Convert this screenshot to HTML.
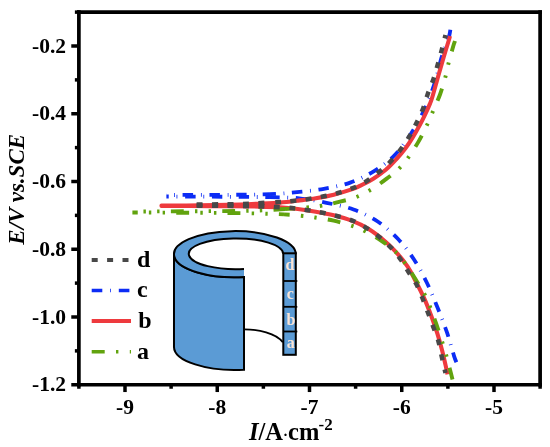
<!DOCTYPE html>
<html><head><meta charset="utf-8"><style>
html,body{margin:0;padding:0;background:#fff;}
body{width:550px;height:447px;overflow:hidden;}
svg{display:block;}
</style></head><body>
<svg width="550" height="447" viewBox="0 0 550 447">
<g fill="none" stroke-linejoin="round">
<path d="M270.00,197.20 C258.47,196.95 247.27,196.92 230.00,196.80 C212.73,196.68 177.00,196.55 166.40,196.50" stroke="#0c2cf5" stroke-width="3.8" stroke-dasharray="10.42 7.76 0.8 7.67" stroke-dashoffset="5.58"/>
<path d="M456.50,362.50 C456.08,361.38 455.62,360.90 454.00,355.80 C452.38,350.70 449.57,339.98 446.80,331.90 C444.03,323.82 440.70,315.45 437.40,307.30 C434.10,299.15 430.90,290.97 427.00,283.00 C423.10,275.03 418.78,266.78 414.00,259.50 C409.22,252.22 404.35,245.63 398.30,239.30 C392.25,232.97 385.17,226.47 377.70,221.50 C370.23,216.53 362.03,212.62 353.50,209.50 C344.97,206.38 335.55,204.67 326.50,202.80 C317.45,200.93 308.62,199.23 299.20,198.30 C289.78,197.37 281.53,197.45 270.00,197.20" stroke="#0c2cf5" stroke-width="3.8" stroke-dasharray="10.42 7.76 0.8 7.67" stroke-dashoffset="26.34"/>
<path d="M166.40,195.00 C177.00,194.97 212.73,194.93 230.00,194.80 C247.27,194.67 258.83,194.63 270.00,194.20" stroke="#0c2cf5" stroke-width="3.8" stroke-dasharray="10.42 7.76 0.8 7.67" stroke-dashoffset="10.33"/>
<path d="M270.00,194.20 C281.17,193.77 288.03,193.10 297.00,192.20 C305.97,191.30 314.93,190.40 323.80,188.80 C332.67,187.20 341.82,185.55 350.20,182.60 C358.58,179.65 366.75,175.62 374.10,171.10 C381.45,166.58 388.18,161.68 394.30,155.50 C400.42,149.32 405.95,141.30 410.80,134.00 C415.65,126.70 419.87,118.87 423.40,111.70 C426.93,104.53 429.73,97.12 432.00,91.00 C434.27,84.88 435.42,80.58 437.00,75.00 C438.58,69.42 439.90,62.75 441.50,57.50 C443.10,52.25 445.30,47.17 446.60,43.50 C447.90,39.83 448.63,38.05 449.30,35.50 C449.97,32.95 450.38,29.42 450.60,28.20" stroke="#0c2cf5" stroke-width="3.8" stroke-dasharray="10.42 7.76 0.8 7.67" stroke-dashoffset="4.61"/>
<path d="M447.50,374.30 C447.17,372.73 446.42,368.95 445.50,364.90 C444.58,360.85 443.35,355.20 442.00,350.00 C440.65,344.80 439.20,339.40 437.40,333.70 C435.60,328.00 433.43,321.77 431.20,315.80 C428.97,309.83 426.80,304.08 424.00,297.90 C421.20,291.72 417.18,283.98 414.40,278.70 C411.62,273.42 409.98,270.22 407.30,266.20 C404.62,262.18 401.88,258.63 398.30,254.60 C394.72,250.57 390.87,246.33 385.80,242.00 C380.73,237.67 373.60,232.15 367.90,228.60 C362.20,225.05 357.30,222.92 351.60,220.70 C345.90,218.48 339.67,216.80 333.70,215.30 C327.73,213.80 321.77,212.75 315.80,211.70 C309.83,210.65 303.87,209.73 297.90,209.00 C291.93,208.27 286.32,207.70 280.00,207.30 C273.68,206.90 268.33,206.78 260.00,206.60 C251.67,206.42 241.67,206.30 230.00,206.20 C218.33,206.10 201.42,206.05 190.00,206.00 C178.58,205.95 166.25,205.92 161.50,205.90 L161.50,205.60 C167.92,205.57 186.92,205.58 200.00,205.40 C213.08,205.22 228.67,204.87 240.00,204.50 C251.33,204.13 261.33,203.52 268.00,203.20 C274.67,202.88 275.02,203.03 280.00,202.60 C284.98,202.17 291.93,201.32 297.90,200.60 C303.87,199.88 309.83,199.28 315.80,198.30 C321.77,197.32 327.73,196.18 333.70,194.70 C339.67,193.22 347.22,190.88 351.60,189.40 C355.98,187.92 356.38,187.58 360.00,185.80 C363.62,184.02 369.00,181.37 373.30,178.70 C377.60,176.03 381.93,173.08 385.80,169.80 C389.67,166.52 393.22,162.58 396.50,159.00 C399.78,155.42 402.82,151.87 405.50,148.30 C408.18,144.73 410.22,141.48 412.60,137.60 C414.98,133.72 417.70,128.88 419.80,125.00 C421.90,121.12 423.50,117.87 425.20,114.30 C426.90,110.73 428.78,106.57 430.00,103.60 C431.22,100.63 431.13,101.07 432.50,96.50 C433.87,91.93 436.35,82.72 438.20,76.20 C440.05,69.68 441.82,63.43 443.60,57.40 C445.38,51.37 447.83,43.57 448.90,40.00 C449.97,36.43 449.82,36.67 450.00,36.00" stroke="#ee3a3e" stroke-width="4.1"/>
<path d="M284.00,214.40 C275.50,214.00 264.00,213.57 250.00,213.30 C236.00,213.03 219.60,212.93 200.00,212.80 C180.40,212.67 143.67,212.55 132.40,212.50" stroke="#61a30e" stroke-width="3.9" stroke-dasharray="12.85 11.17 2.37 11.27 2.37 11.27" stroke-dashoffset="7.62"/>
<path d="M452.50,379.50 C452.25,378.52 452.08,377.80 451.00,373.60 C449.92,369.40 447.45,359.53 446.00,354.30 C444.55,349.07 443.95,347.35 442.30,342.20 C440.65,337.05 438.12,329.22 436.10,323.40 C434.08,317.58 432.08,312.08 430.20,307.30 C428.32,302.52 426.88,298.80 424.80,294.70 C422.72,290.60 420.92,287.82 417.70,282.70 C414.48,277.58 408.95,268.92 405.50,264.00 C402.05,259.08 400.95,257.02 397.00,253.20 C393.05,249.38 387.10,244.75 381.80,241.10 C376.50,237.45 370.17,233.85 365.20,231.30 C360.23,228.75 357.25,227.57 352.00,225.80 C346.75,224.03 339.87,222.08 333.70,220.70 C327.53,219.32 320.45,218.33 315.00,217.50 C309.55,216.67 306.17,216.22 301.00,215.70 C295.83,215.18 292.50,214.80 284.00,214.40" stroke="#61a30e" stroke-width="3.9" stroke-dasharray="12.85 11.17 2.37 11.27 2.37 11.27" stroke-dashoffset="0.58"/>
<path d="M132.40,211.50 C143.67,211.45 180.40,211.32 200.00,211.20 C219.60,211.08 235.83,211.17 250.00,210.80 C264.17,210.43 275.50,209.57 285.00,209.00" stroke="#61a30e" stroke-width="3.9" stroke-dasharray="12.85 11.17 2.37 11.27 2.37 11.27" stroke-dashoffset="12.85"/>
<path d="M285.00,209.00 C294.50,208.43 300.83,207.97 307.00,207.40 C313.17,206.83 316.67,206.52 322.00,205.60 C327.33,204.68 333.25,203.33 339.00,201.90 C344.75,200.47 351.00,199.15 356.50,197.00 C362.00,194.85 366.83,192.17 372.00,189.00 C377.17,185.83 382.97,181.43 387.50,178.00 C392.03,174.57 395.75,171.78 399.20,168.40 C402.65,165.02 404.98,162.17 408.20,157.70 C411.42,153.23 415.37,147.05 418.50,141.60 C421.63,136.15 424.50,130.27 427.00,125.00 C429.50,119.73 431.30,115.17 433.50,110.00 C435.70,104.83 438.18,99.63 440.20,94.00 C442.22,88.37 444.20,81.37 445.60,76.20 C447.00,71.03 447.32,68.03 448.60,63.00 C449.88,57.97 452.23,49.67 453.30,46.00 C454.37,42.33 454.72,41.83 455.00,41.00" stroke="#61a30e" stroke-width="3.9" stroke-dasharray="12.85 11.17 2.37 11.27 2.37 11.27" stroke-dashoffset="2.54"/>
<path d="M280.00,207.20 C270.33,206.73 254.67,206.27 240.00,206.00 C225.33,205.73 200.00,205.67 192.00,205.60" stroke="#484848" stroke-width="4.5" stroke-dasharray="6 9.4" stroke-dashoffset="15.08"/>
<path d="M445.50,373.00 C444.83,370.10 442.70,360.95 441.50,355.60 C440.30,350.25 439.72,345.82 438.30,340.90 C436.88,335.98 434.78,330.95 433.00,326.10 C431.22,321.25 429.40,316.57 427.60,311.80 C425.80,307.03 424.13,302.22 422.20,297.50 C420.27,292.78 418.33,287.82 416.00,283.50 C413.67,279.18 410.70,275.52 408.20,271.60 C405.70,267.68 403.83,263.95 401.00,260.00 C398.17,256.05 394.70,251.63 391.20,247.90 C387.70,244.17 383.95,240.82 380.00,237.60 C376.05,234.38 371.92,231.37 367.50,228.60 C363.08,225.83 358.92,223.18 353.50,221.00 C348.08,218.82 341.25,217.08 335.00,215.50 C328.75,213.92 322.17,212.62 316.00,211.50 C309.83,210.38 304.00,209.52 298.00,208.80 C292.00,208.08 289.67,207.67 280.00,207.20" stroke="#484848" stroke-width="4.5" stroke-dasharray="6 9.4" stroke-dashoffset="2.26"/>
<path d="M192.00,204.60 C200.00,204.50 227.00,204.35 240.00,204.00 C253.00,203.65 261.25,203.00 270.00,202.50" stroke="#484848" stroke-width="4.5" stroke-dasharray="6 9.4" stroke-dashoffset="10.70"/>
<path d="M270.00,202.50 C278.75,202.00 285.00,201.75 292.50,201.00 C300.00,200.25 307.42,199.33 315.00,198.00 C322.58,196.67 330.50,195.17 338.00,193.00 C345.50,190.83 353.38,188.33 360.00,185.00 C366.62,181.67 372.72,176.80 377.70,173.00 C382.68,169.20 386.10,166.10 389.90,162.20 C393.70,158.30 397.23,153.93 400.50,149.60 C403.77,145.27 406.82,140.67 409.50,136.20 C412.18,131.73 414.30,127.50 416.60,122.80 C418.90,118.10 421.40,112.92 423.30,108.00 C425.20,103.08 426.30,98.13 428.00,93.30 C429.70,88.47 431.83,83.93 433.50,79.00 C435.17,74.07 436.58,68.70 438.00,63.70 C439.42,58.70 440.75,53.78 442.00,49.00 C443.25,44.22 444.92,37.33 445.50,35.00" stroke="#484848" stroke-width="4.5" stroke-dasharray="6 9.4" stroke-dashoffset="10.41"/>
</g>
<path d="M174.00,254.20 A60.90,23.10 0 0 0 244.00,277.04 L244.00,369.74 A60.90,23.10 0 0 1 174.00,346.90 Z" fill="#5b9bd5" stroke="#000" stroke-width="2"/>
<path d="M295.80,254.20 A60.90,23.10 0 1 0 244.00,277.04 L244.00,268.97 A47.15,15.40 0 1 1 283.10,253.80 Z" fill="#5b9bd5"/>
<path d="M295.80,254.20 A60.90,23.10 0 1 0 244.00,277.04 M244.00,268.97 A47.15,15.40 0 1 1 283.10,253.80" fill="none" stroke="#000" stroke-width="2"/>
<path d="M244.3,329.3 C258,329.5 276,333 282.8,342.3" fill="none" stroke="#000" stroke-width="1.8"/>
<rect x="283.30" y="253.30" width="12.50" height="101.50" fill="#5b9bd5" stroke="#000" stroke-width="2"/>
<line x1="283.30" y1="281.00" x2="297.30" y2="281.00" stroke="#000" stroke-width="1.8"/>
<line x1="283.30" y1="306.80" x2="297.30" y2="306.80" stroke="#000" stroke-width="1.8"/>
<line x1="283.30" y1="331.50" x2="297.30" y2="331.50" stroke="#000" stroke-width="1.8"/>
<text x="289.90" y="270.00" text-anchor="middle" font-family="Liberation Serif, serif" font-weight="bold" font-size="16" fill="#fbe5d6">d</text>
<text x="290.30" y="299.20" text-anchor="middle" font-family="Liberation Serif, serif" font-weight="bold" font-size="16" fill="#fbe5d6">c</text>
<text x="291.00" y="324.80" text-anchor="middle" font-family="Liberation Serif, serif" font-weight="bold" font-size="16" fill="#fbe5d6">b</text>
<text x="290.70" y="348.00" text-anchor="middle" font-family="Liberation Serif, serif" font-weight="bold" font-size="16" fill="#fbe5d6">a</text>
<line x1="91.7" y1="260.10" x2="131" y2="260.10" stroke="#484848" stroke-width="4" stroke-dasharray="6 9.4"/>
<text x="137.00" y="266.90" font-family="Liberation Serif, serif" font-weight="bold" font-size="24">d</text>
<line x1="91.7" y1="290.60" x2="131" y2="290.60" stroke="#0c2cf5" stroke-width="3.5" stroke-dasharray="10.6 7.9 0.8 7.8"/>
<text x="137.00" y="297.40" font-family="Liberation Serif, serif" font-weight="bold" font-size="24">c</text>
<line x1="91.7" y1="320.90" x2="131" y2="320.90" stroke="#ee3a3e" stroke-width="4"/>
<text x="138.20" y="327.70" font-family="Liberation Serif, serif" font-weight="bold" font-size="24">b</text>
<line x1="91.7" y1="351.70" x2="131" y2="351.70" stroke="#61a30e" stroke-width="3.6" stroke-dasharray="13 11.3 2.4 11.4 2.4 11.4"/>
<text x="137.00" y="358.50" font-family="Liberation Serif, serif" font-weight="bold" font-size="24">a</text>
<g stroke="#000" stroke-width="3.70" fill="none">
<line x1="77.03" y1="12.12" x2="541.98" y2="12.12"/>
<line x1="77.03" y1="384.75" x2="541.98" y2="384.75"/>
<line x1="78.88" y1="10.28" x2="78.88" y2="386.60"/>
<line x1="540.12" y1="10.28" x2="540.12" y2="386.60"/>
<line x1="78.88" y1="384.75" x2="78.88" y2="388.75" stroke-width="3.50"/>
<line x1="125.00" y1="384.75" x2="125.00" y2="392.05" stroke-width="3.50"/>
<line x1="171.12" y1="384.75" x2="171.12" y2="388.75" stroke-width="3.50"/>
<line x1="217.25" y1="384.75" x2="217.25" y2="392.05" stroke-width="3.50"/>
<line x1="263.38" y1="384.75" x2="263.38" y2="388.75" stroke-width="3.50"/>
<line x1="309.50" y1="384.75" x2="309.50" y2="392.05" stroke-width="3.50"/>
<line x1="355.62" y1="384.75" x2="355.62" y2="388.75" stroke-width="3.50"/>
<line x1="401.75" y1="384.75" x2="401.75" y2="392.05" stroke-width="3.50"/>
<line x1="447.88" y1="384.75" x2="447.88" y2="388.75" stroke-width="3.50"/>
<line x1="494.00" y1="384.75" x2="494.00" y2="392.05" stroke-width="3.50"/>
<line x1="540.12" y1="384.75" x2="540.12" y2="388.75" stroke-width="3.50"/>
<line x1="78.88" y1="12.12" x2="74.88" y2="12.12" stroke-width="3.50"/>
<line x1="78.88" y1="46.00" x2="71.28" y2="46.00" stroke-width="3.50"/>
<line x1="78.88" y1="79.88" x2="74.88" y2="79.88" stroke-width="3.50"/>
<line x1="78.88" y1="113.75" x2="71.28" y2="113.75" stroke-width="3.50"/>
<line x1="78.88" y1="147.62" x2="74.88" y2="147.62" stroke-width="3.50"/>
<line x1="78.88" y1="181.50" x2="71.28" y2="181.50" stroke-width="3.50"/>
<line x1="78.88" y1="215.38" x2="74.88" y2="215.38" stroke-width="3.50"/>
<line x1="78.88" y1="249.25" x2="71.28" y2="249.25" stroke-width="3.50"/>
<line x1="78.88" y1="283.12" x2="74.88" y2="283.12" stroke-width="3.50"/>
<line x1="78.88" y1="317.00" x2="71.28" y2="317.00" stroke-width="3.50"/>
<line x1="78.88" y1="350.88" x2="74.88" y2="350.88" stroke-width="3.50"/>
<line x1="78.88" y1="384.75" x2="71.28" y2="384.75" stroke-width="3.50"/>
</g>
<g font-family="Liberation Serif, serif" font-weight="bold" font-size="21.5" fill="#000">
<text x="125.00" y="413.6" text-anchor="middle">-9</text>
<text x="217.25" y="413.6" text-anchor="middle">-8</text>
<text x="309.50" y="413.6" text-anchor="middle">-7</text>
<text x="401.75" y="413.6" text-anchor="middle">-6</text>
<text x="494.00" y="413.6" text-anchor="middle">-5</text>
<text x="66.1" y="52.60" text-anchor="end">-0.2</text>
<text x="66.1" y="120.35" text-anchor="end">-0.4</text>
<text x="66.1" y="188.10" text-anchor="end">-0.6</text>
<text x="66.1" y="255.85" text-anchor="end">-0.8</text>
<text x="66.1" y="323.60" text-anchor="end">-1.0</text>
<text x="66.1" y="391.35" text-anchor="end">-1.2</text>
</g>
<text x="249" y="439.6" font-family="Liberation Serif, serif" font-weight="bold" font-size="24.5"><tspan font-style="italic">I</tspan>/A<tspan font-size="15">·</tspan>cm<tspan font-size="17" dy="-10" dx="-0.8">-2</tspan></text>
<text transform="translate(24,189.3) rotate(-90)" text-anchor="middle" font-family="Liberation Serif, serif" font-weight="bold" font-style="italic" font-size="23">E/V vs.SCE</text>
</svg>
</body></html>
